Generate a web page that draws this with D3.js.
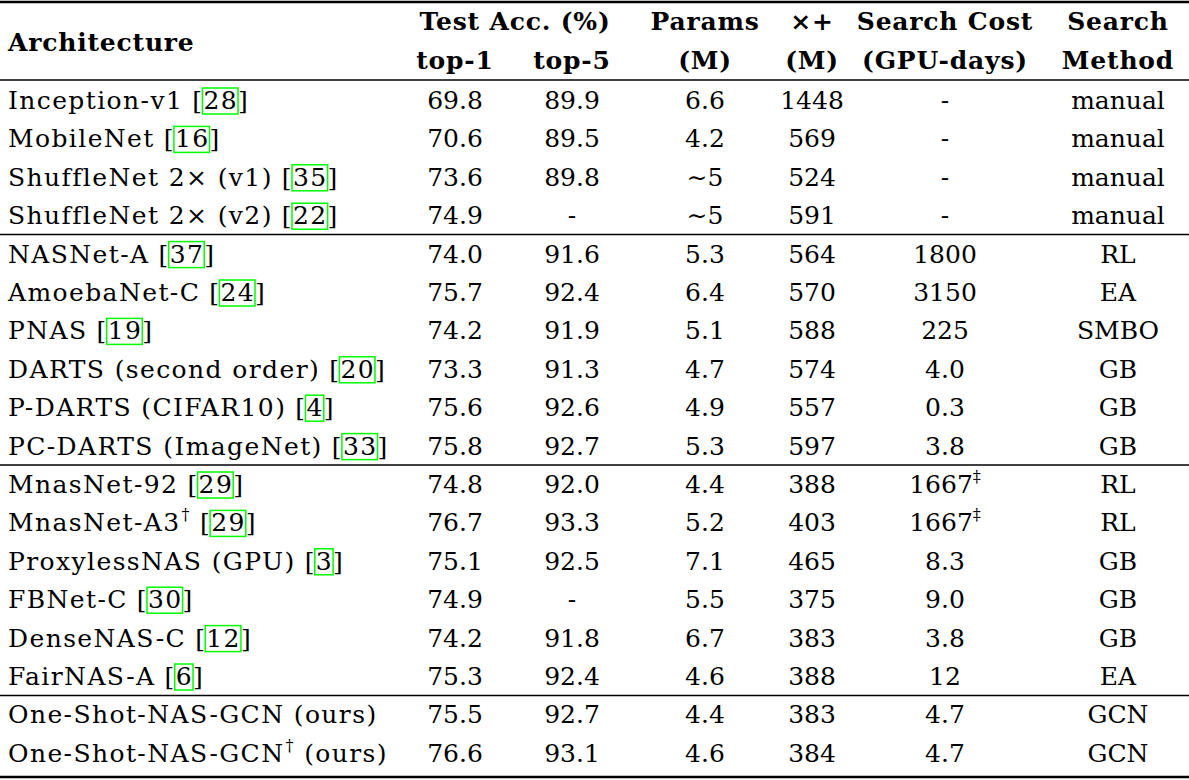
<!DOCTYPE html>
<html><head><meta charset="utf-8">
<script src="https://cdn.jsdelivr.net/npm/d3@7"></script>
<style>body{margin:0;background:#fff}text{font-family:"DejaVu Serif","Liberation Serif",serif}</style>
</head><body><svg id="t" width="1189" height="780"></svg>
<script>
// table content
var names = ['Inception-v1', 'MobileNet', 'ShuffleNet 2\u00d7 (v1)', 'ShuffleNet 2\u00d7 (v2)',
  'NASNet-A', 'AmoebaNet-C', 'PNAS', 'DARTS (second order)', 'P-DARTS (CIFAR10)', 'PC-DARTS (ImageNet)',
  'MnasNet-92', 'MnasNet-A3', 'ProxylessNAS (GPU)', 'FBNet-C', 'DenseNAS-C', 'FairNAS-A',
  'One-Shot-NAS-GCN', 'One-Shot-NAS-GCN'];
var daggers = [0,0,0,0, 0,0,0,0,0,0, 0,1,0,0,0,0, 0,1];
var suffix = ['','','','', '','','','','','', '','','','','','', ' (ours)',' (ours)'];
var refs = ['28','16','35','22','37','24','19','20','4','33','29','29','3','30','12','6','',''];
var top1 = ['69.8','70.6','73.6','74.9','74.0','75.7','74.2','73.3','75.6','75.8','74.8','76.7','75.1','74.9','74.2','75.3','75.5','76.6'];
var top5 = ['89.9','89.5','89.8','-','91.6','92.4','91.9','91.3','92.6','92.7','92.0','93.3','92.5','-','91.8','92.4','92.7','93.1'];
var params = ['6.6','4.2','\u223c5','\u223c5','5.3','6.4','5.1','4.7','4.9','5.3','4.4','5.2','7.1','5.5','6.7','4.6','4.4','4.6'];
var madds = ['1448','569','524','591','564','570','588','574','557','597','388','403','465','375','383','388','383','384'];
var cost = ['-','-','-','-','1800','3150','225','4.0','0.3','3.8','1667\u2021','1667\u2021','8.3','9.0','3.8','12','4.7','4.7'];
var method = ['manual','manual','manual','manual','RL','EA','SMBO','GB','GB','GB','RL','RL','GB','GB','GB','EA','GCN','GCN'];
var groupBreaks = [4, 10, 16];

var svg = d3.select('#t');
var fs = 25;
var ls = 1.4; // letter spacing for the name column
var y = d3.scaleLinear().domain([0, 1]).range([109, 147.4]);
var colX = {top1: 455, top5: 572, params: 705, madds: 812, cost: 945, method: 1118};

function rule(yy, w) {
  svg.append('line').attr('x1', 0).attr('x2', 1189).attr('y1', yy).attr('y2', yy)
    .attr('stroke', '#000').attr('stroke-width', w);
}
rule(2, 2.5); rule(80, 1.5);
groupBreaks.forEach(function(g) { rule(y(g) - 28, 1.5); });
rule(777, 2.5);

// header
var h = svg.append('g').attr('font-weight', 'bold').attr('font-size', fs).attr('letter-spacing', 0.8);
h.append('text').attr('x', 8).attr('y', 51).text('Architecture');
var h1 = [['Test Acc. (%)', 515], ['Params', 705], ['\u00d7+', 812], ['Search Cost', 945], ['Search', 1118]];
var h2 = [['top-1', 455], ['top-5', 572], ['(M)', 705], ['(M)', 812], ['(GPU-days)', 945], ['Method', 1118]];
h1.forEach(function(d) { h.append('text').attr('x', d[1]).attr('y', 30).attr('text-anchor', 'middle').text(d[0]); });
h2.forEach(function(d) { h.append('text').attr('x', d[1]).attr('y', 69).attr('text-anchor', 'middle').text(d[0]); });

// body
var body = svg.append('g').attr('font-size', fs);
var nameG = body.append('g').attr('letter-spacing', ls);
names.forEach(function(n, i) {
  var yy = y(i), x = 8;
  var t = nameG.append('text').attr('x', x).attr('y', yy).text(n);
  x += t.node().getComputedTextLength();
  if (daggers[i]) {
    var s = nameG.append('text').attr('x', x + 1).attr('y', yy - 11).attr('font-size', 16).text('\u2020');
    x += s.node().getComputedTextLength() + 1;
  }
  if (suffix[i]) {
    var u = nameG.append('text').attr('x', x).attr('y', yy).attr('xml:space', 'preserve').text(suffix[i]);
    x += u.node().getComputedTextLength();
  }
  if (refs[i]) {
    x += 9;
    var b1 = nameG.append('text').attr('x', x).attr('y', yy).text('[');
    x += b1.node().getComputedTextLength();
    var r = nameG.append('text').attr('x', x).attr('y', yy).text(refs[i]);
    var w = r.node().getComputedTextLength();
    nameG.append('rect').attr('x', x - 1).attr('y', yy - 21).attr('width', w + 1).attr('height', 26)
      .attr('fill', 'none').attr('stroke', '#00ff00').attr('stroke-width', 1.5);
    x += w;
    nameG.append('text').attr('x', x).attr('y', yy).text(']');
  }
});

function column(vals, cx) {
  body.selectAll(null).data(vals).enter().append('text')
    .attr('x', cx).attr('y', function(d, i) { return y(i); })
    .attr('text-anchor', 'middle')
    .each(function(d) {
      var el = d3.select(this);
      if (d.indexOf('\u2021') >= 0) {
        el.append('tspan').text(d.replace('\u2021', ''));
        el.append('tspan').attr('dy', -11).attr('font-size', 16).text('\u2021');
      } else el.text(d);
    });
}
column(top1, colX.top1);
column(top5, colX.top5);
column(params, colX.params);
column(madds, colX.madds);
column(cost, colX.cost);
column(method, colX.method);
</script></body></html>
